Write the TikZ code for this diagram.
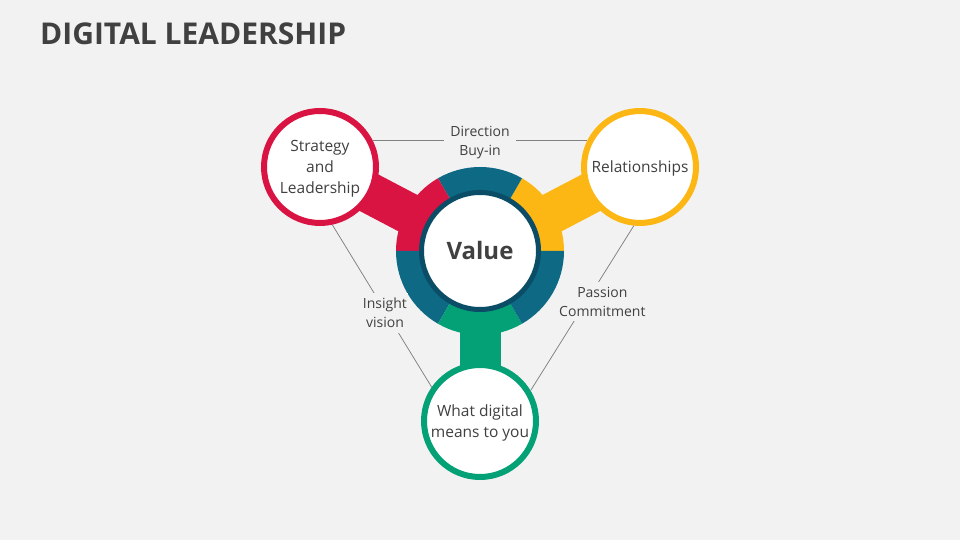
\documentclass[tikz,border=0pt]{standalone}
\usepackage{fontspec}
\setmainfont{Open Sans}
\usepackage{tikz}
\definecolor{bgc}{HTML}{F2F2F2}
\definecolor{txtc}{HTML}{404040}
\definecolor{redc}{HTML}{D91442}
\definecolor{yelc}{HTML}{FDB714}
\definecolor{grnc}{HTML}{05A176}
\definecolor{tealc}{HTML}{0E6985}
\definecolor{darkc}{HTML}{0B4D66}
\definecolor{linec}{HTML}{808080}

\begin{document}
\begin{tikzpicture}[x=1pt,y=1pt,
  bubble/.style={circle,draw=#1,line width=6pt,fill=white,minimum size=112pt,inner sep=0pt,align=center,text depth=0pt,text=txtc,font=\fontsize{15.5}{21}\selectfont},
  tag/.style={fill=bgc,inner xsep=1pt,inner ysep=5pt,align=center,text=txtc,font=\fontsize{14}{19}\selectfont},
  guide/.style={draw=linec,line width=0.75pt}]
  \fill[bgc] (0,0) rectangle (960,540);
  \node[anchor=base west,inner sep=0pt,text=txtc,font=\fontsize{30}{36}\selectfont\bfseries] (title) at (40,495) {DIGITAL LEADERSHIP};
  \coordinate (c) at (480,289);
  \coordinate (sc) at (320,373);
  \coordinate (rc) at (640,373);
  \coordinate (wc) at (480,119);
  \draw[line width=41pt,redc] (c) -- (sc);
  \draw[line width=41pt,yelc] (c) -- (rc);
  \draw[line width=41pt,grnc] (c) -- (wc);
  \foreach \a/\b/\col in {0/60/yelc,60/120/tealc,120/180/redc,180/240/tealc,240/300/grnc,300/360/tealc}
    \fill[\col] (c) -- ++(\a:84) arc[start angle=\a,end angle=\b,radius=84] -- cycle;
  \node[circle,draw=darkc,line width=5pt,fill=white,minimum size=117pt,text=txtc,font=\fontsize{24}{28}\selectfont\bfseries] (val) at (c) {\raisebox{-2pt}{Value}};
  \node[bubble=redc] (strat) at (sc) {Strategy\\and\\Leadership};
  \node[bubble=yelc] (rel) at (rc) {Relationships};
  \node[bubble=grnc] (wdm) at (wc) {What digital\\means to you};
  \draw[guide] (strat.27) -- node[tag,inner xsep=6pt,yshift=-2pt] (dir) {Direction\\Buy-in} (rel.153);
  \draw[guide] (strat.-78) -- node[tag,pos=0.53,yshift=-2pt] (ins) {Insight\\vision} (wdm.145);
  \draw[guide] (rel.-96) -- node[tag,pos=0.46,xshift=16pt] (pas) {Passion\\Commitment} (wdm.31);
\end{tikzpicture}
\end{document}
